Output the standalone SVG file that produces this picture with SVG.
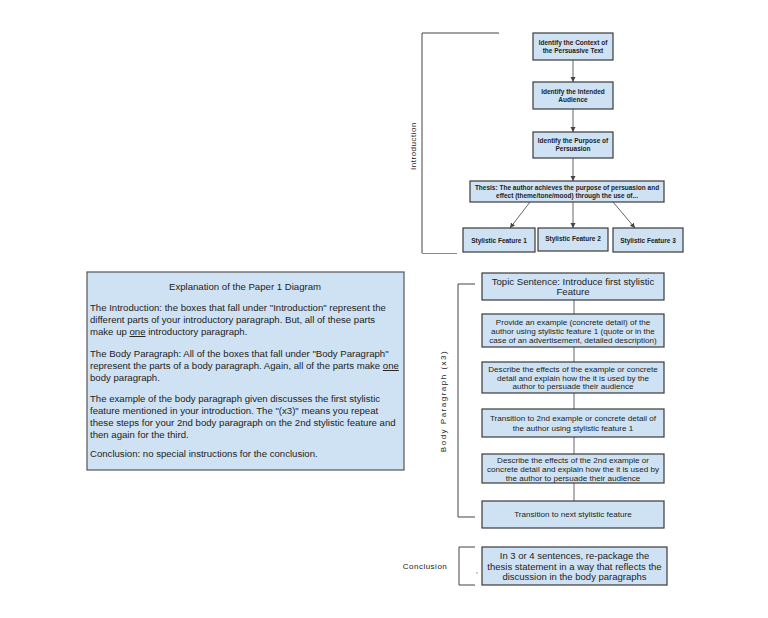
<svg xmlns="http://www.w3.org/2000/svg" width="768" height="618" viewBox="0 0 768 618">
<defs>
<marker id="ah" markerWidth="6" markerHeight="6" refX="5" refY="3" orient="auto" markerUnits="userSpaceOnUse">
<path d="M0,0.5 L5,3 L0,5.5 Z" fill="#444"/>
</marker>
</defs>
<style>
.box{fill:#cfe2f3;stroke:#3a3a3a;stroke-width:1.2}
.t6{font-family:"Liberation Sans",Arial,sans-serif;font-size:6.5px;font-weight:bold;fill:#222;text-anchor:middle}
.t7{font-family:"Liberation Sans",Arial,sans-serif;font-size:8.1px;fill:#222;text-anchor:middle}
.t8{font-family:"Liberation Sans",Arial,sans-serif;font-size:9.6px;fill:#222;text-anchor:middle}
.t9{font-family:"Liberation Sans",Arial,sans-serif;font-size:9.5px;fill:#222;text-anchor:middle}
.ex{font-family:"Liberation Sans",Arial,sans-serif;font-size:9.6px;fill:#222}
.lab{font-family:"Liberation Sans",Arial,sans-serif;font-size:8px;fill:#222;text-anchor:middle}
.br{fill:none;stroke:#444;stroke-width:1}
.cn{fill:none;stroke:#555;stroke-width:0.9}
</style>
<rect width="768" height="618" fill="#fff"/>

<g id="connectors">
<line class="cn" x1="573" y1="60" x2="573" y2="82" marker-end="url(#ah)"/>
<line class="cn" x1="573" y1="109" x2="573" y2="132" marker-end="url(#ah)"/>
<line class="cn" x1="573" y1="158" x2="573" y2="181" marker-end="url(#ah)"/>
<line class="cn" x1="530" y1="202" x2="510" y2="228" marker-end="url(#ah)"/>
<line class="cn" x1="573" y1="202" x2="573" y2="228" marker-end="url(#ah)"/>
<line class="cn" x1="613" y1="202" x2="635" y2="228" marker-end="url(#ah)"/>
<line class="cn" x1="574" y1="300" x2="574" y2="314"/>
<line class="cn" x1="574" y1="347" x2="574" y2="362"/>
<line class="cn" x1="574" y1="393" x2="574" y2="409"/>
<line class="cn" x1="574" y1="437" x2="574" y2="454"/>
<line class="cn" x1="574" y1="483" x2="574" y2="501"/>
</g>

<g id="intro-bracket">
<polyline class="br" points="499,33 422,33 422,253"/>
<line x1="422" y1="253.5" x2="457" y2="253.5" stroke="#888" stroke-width="1.2"/>
<text class="lab" transform="translate(416,146) rotate(-90)" letter-spacing="0.5">Introduction</text>
</g>

<g id="body-bracket">
<polyline class="br" points="475,284 458,284 458,517 475,517"/>
<text class="lab" transform="translate(446,401) rotate(-90)" font-size="9" letter-spacing="1.5">Body Paragraph (x3)</text>
</g>

<g id="conclusion-bracket">
<polyline class="br" points="475,547 459,547 459,585 475,585"/>
<rect x="476.5" y="572.5" width="1" height="1" fill="#444"/>
<text class="lab" x="425" y="569" letter-spacing="0.5">Conclusion</text>
</g>

<g id="n-context">
<rect class="box" x="533" y="33" width="80" height="27"/>
<text class="t6" x="573" y="45">Identify the Context of</text>
<text class="t6" x="573" y="53">the Persuasive Text</text>
</g>
<g id="n-audience">
<rect class="box" x="533" y="82" width="80" height="27"/>
<text class="t6" x="573" y="93.5">Identify the Intended</text>
<text class="t6" x="573" y="101.5">Audience</text>
</g>
<g id="n-purpose">
<rect class="box" x="533" y="132" width="80" height="26"/>
<text class="t6" x="573" y="143">Identify the Purpose of</text>
<text class="t6" x="573" y="151">Persuasion</text>
</g>
<g id="n-thesis">
<rect class="box" x="470" y="181" width="194" height="21"/>
<text class="t6" x="567" y="189.5" font-size="6.6">Thesis: The author achieves the purpose of persuasion and</text>
<text class="t6" x="567" y="197.5" font-size="6.6">effect (theme/tone/mood) through the use of...</text>
</g>
<g id="n-f1">
<rect class="box" x="463" y="228" width="72" height="24"/>
<text class="t6" x="499" y="242.5">Stylistic Feature 1</text>
</g>
<g id="n-f2">
<rect class="box" x="538" y="228" width="70" height="23"/>
<text class="t6" x="573" y="241">Stylistic Feature 2</text>
</g>
<g id="n-f3">
<rect class="box" x="613" y="228" width="70" height="24"/>
<text class="t6" x="648" y="242.5">Stylistic Feature 3</text>
</g>

<g id="n-topic">
<rect class="box" x="482" y="273" width="182" height="27"/>
<text class="t8" x="573" y="284.5">Topic Sentence: Introduce first stylistic</text>
<text class="t8" x="573" y="295">Feature</text>
</g>
<g id="n-example">
<rect class="box" x="482" y="314" width="182" height="33"/>
<text class="t7" x="573" y="324.5">Provide an example (concrete detail) of the</text>
<text class="t7" x="573" y="333.5">author using stylistic feature 1 (quote or in the</text>
<text class="t7" x="573" y="342.5">case of an advertisement, detailed description)</text>
</g>
<g id="n-effects1">
<rect class="box" x="482" y="362" width="182" height="31"/>
<text class="t7" x="573" y="372">Describe the effects of the example or concrete</text>
<text class="t7" x="573" y="380.5">detail and explain how the it is used by the</text>
<text class="t7" x="573" y="389">author to persuade their audience</text>
</g>
<g id="n-transition2">
<rect class="box" x="482" y="409" width="182" height="28"/>
<text class="t7" x="573" y="420.5">Transition to 2nd example or concrete detail of</text>
<text class="t7" x="573" y="430.5">the author using stylistic feature 1</text>
</g>
<g id="n-effects2">
<rect class="box" x="482" y="454" width="182" height="29"/>
<text class="t7" x="573" y="462.5">Describe the effects of the 2nd example or</text>
<text class="t7" x="573" y="471.5">concrete detail and explain how the it is used by</text>
<text class="t7" x="573" y="480.5">the author to persuade their audience</text>
</g>
<g id="n-next">
<rect class="box" x="482" y="501" width="182" height="27"/>
<text class="t7" x="573" y="517">Transition to next stylistic feature</text>
</g>
<g id="n-conclusion">
<rect class="box" x="482" y="547" width="185" height="38"/>
<text class="t9" x="574.5" y="559">In 3 or 4 sentences, re-package the</text>
<text class="t9" x="574.5" y="569.5">thesis statement in a way that reflects the</text>
<text class="t9" x="574.5" y="580">discussion in the body paragraphs</text>
</g>

<g id="explanation">
<rect x="87" y="272" width="317" height="198" fill="#cfe2f3" stroke="#555" stroke-width="1.2"/>
<text class="ex" x="245" y="290" text-anchor="middle">Explanation of the Paper 1 Diagram</text>
<text class="ex" x="90" y="311">The Introduction: the boxes that fall under "Introduction" represent the</text>
<text class="ex" x="90" y="323">different parts of your introductory paragraph. But, all of these parts</text>
<text class="ex" x="90" y="335">make up <tspan text-decoration="underline">one</tspan> introductory paragraph.</text>
<text class="ex" x="90" y="357">The Body Paragraph: All of the boxes that fall under "Body Paragraph"</text>
<text class="ex" x="90" y="369">represent the parts of a body paragraph. Again, all of the parts make <tspan text-decoration="underline">one</tspan></text>
<text class="ex" x="90" y="381">body paragraph.</text>
<text class="ex" x="90" y="402">The example of the body paragraph given discusses the first stylistic</text>
<text class="ex" x="90" y="414">feature mentioned in your introduction. The "(x3)" means you repeat</text>
<text class="ex" x="90" y="426">these steps for your 2nd body paragraph on the 2nd stylistic feature and</text>
<text class="ex" x="90" y="438">then again for the third.</text>
<text class="ex" x="90" y="457">Conclusion: no special instructions for the conclusion.</text>
</g>
</svg>
